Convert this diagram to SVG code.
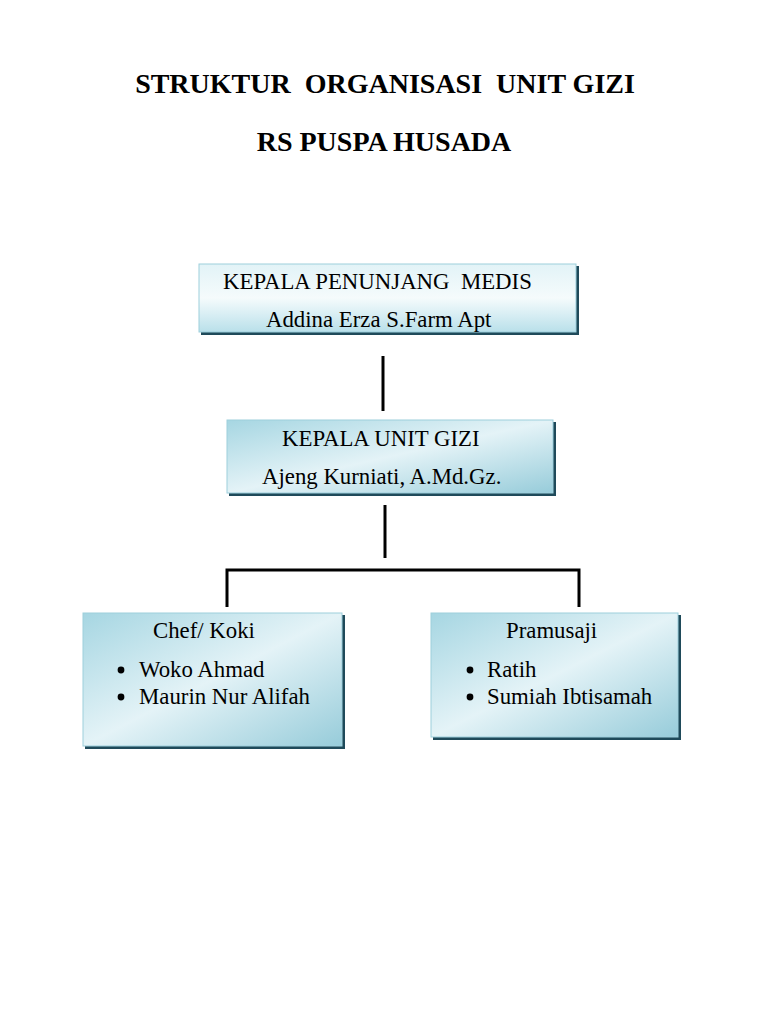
<svg xmlns="http://www.w3.org/2000/svg" width="768" height="1024" viewBox="0 0 768 1024">
<style>
.t{font-family:"Liberation Serif","Times New Roman",serif;fill:#000;}
.title{font-size:28px;font-weight:bold;}
.lb{font-size:22.8px;}
.box{stroke:#9ecfdc;stroke-width:1;}
.sh{fill:#1f4a5a;}
.con{stroke:#000;stroke-width:3;fill:none;}
</style>
<defs>
<linearGradient id="g1" x1="0" y1="0" x2="0" y2="1">
<stop offset="0" stop-color="#e2f3f7"/>
<stop offset="0.5" stop-color="#f5fbfc"/>
<stop offset="1" stop-color="#b9e0ea"/>
</linearGradient>
<linearGradient id="g2" x1="0" y1="0" x2="1" y2="1">
<stop offset="0" stop-color="#a6d6e2"/>
<stop offset="0.5" stop-color="#e4f3f7"/>
<stop offset="1" stop-color="#97ccda"/>
</linearGradient>
</defs>
<rect width="768" height="1024" fill="#fff"/>
<text class="t title" x="385" y="93" text-anchor="middle" xml:space="preserve">STRUKTUR  ORGANISASI  UNIT GIZI</text>
<text class="t title" x="384" y="151" text-anchor="middle">RS PUSPA HUSADA</text>
<g id="connectors">
<line class="con" x1="383" y1="356" x2="383" y2="411"/>
<line class="con" x1="385" y1="505" x2="385" y2="558"/>
<polyline class="con" points="227,607 227,570 579,570 579,607"/>
</g>
<g id="kepala-penunjang">
<rect class="sh" x="201" y="266" width="378" height="69"/>
<rect class="box" x="199" y="264" width="377" height="68" fill="url(#g1)"/>
<text class="t lb" x="223" y="289" xml:space="preserve">KEPALA PENUNJANG  MEDIS</text>
<text class="t lb" x="266" y="327">Addina Erza S.Farm Apt</text>
</g>
<g id="kepala-unit">
<rect class="sh" x="229" y="422" width="327" height="74"/>
<rect class="box" x="227" y="420" width="326" height="73" fill="url(#g2)"/>
<text class="t lb" x="282" y="446">KEPALA UNIT GIZI</text>
<text class="t lb" x="262" y="484">Ajeng Kurniati, A.Md.Gz.</text>
</g>
<g id="chef">
<rect class="sh" x="85" y="615" width="260" height="134"/>
<rect class="box" x="83" y="613" width="259" height="133" fill="url(#g2)"/>
<text class="t lb" x="153" y="638">Chef/ Koki</text>
<circle cx="121" cy="670" r="3.4"/>
<circle cx="121" cy="697" r="3.4"/>
<text class="t lb" x="139" y="677">Woko Ahmad</text>
<text class="t lb" x="139" y="704">Maurin Nur Alifah</text>
</g>
<g id="pramusaji">
<rect class="sh" x="433" y="615" width="248" height="125"/>
<rect class="box" x="431" y="613" width="247" height="124" fill="url(#g2)"/>
<text class="t lb" x="506" y="638">Pramusaji</text>
<circle cx="470" cy="670" r="3.4"/>
<circle cx="470" cy="697" r="3.4"/>
<text class="t lb" x="487" y="677">Ratih</text>
<text class="t lb" x="487" y="704">Sumiah Ibtisamah</text>
</g>
</svg>
